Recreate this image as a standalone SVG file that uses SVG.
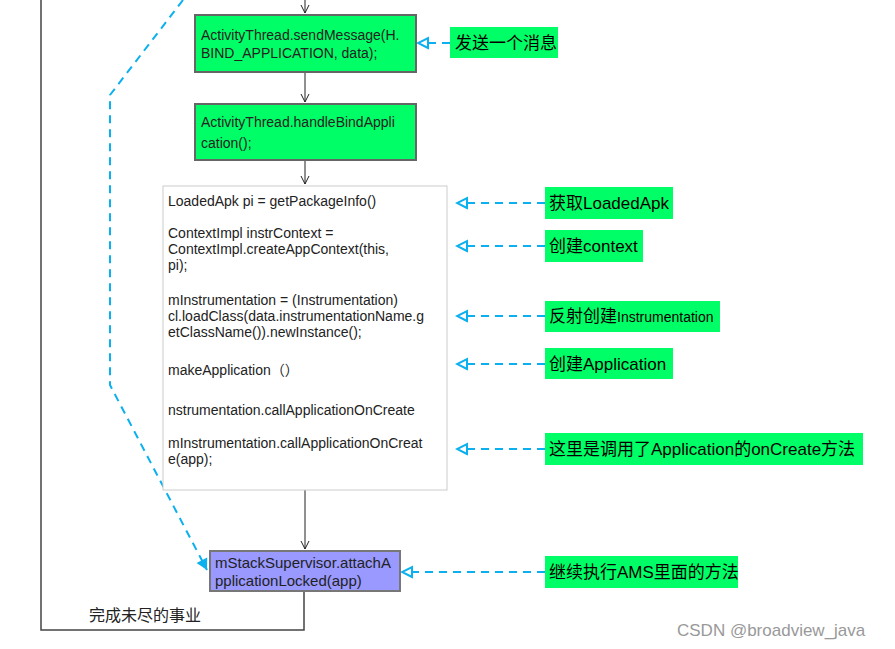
<svg xmlns="http://www.w3.org/2000/svg" width="895" height="649" viewBox="0 0 895 649">
<style>
text{font-family:"Liberation Sans","Noto Sans CJK SC",sans-serif;font-size:14px;fill:#222}
.lbl{font-size:17px;fill:#000}
.g{fill:#00ff66;stroke:#666;stroke-width:2}
.lb{fill:#00ff66;stroke:none}
.c{stroke:#222;stroke-width:1;fill:none}
.d{stroke:#0bb0ee;stroke-width:2;fill:none;stroke-dasharray:8,6}
</style>
<defs>
<marker id="a" markerWidth="10" markerHeight="10" refX="9" refY="5" orient="auto" markerUnits="userSpaceOnUse"><path d="M1,1 L9,5 L1,9" fill="none" stroke="#222"/></marker>
<marker id="o" markerWidth="14" markerHeight="14" refX="12" refY="7" orient="auto" markerUnits="userSpaceOnUse"><path d="M2,2 L12,7 L2,12 Z" fill="#fff" stroke="#0bb0ee" stroke-width="2"/></marker>
<marker id="f" markerWidth="14" markerHeight="14" refX="12" refY="7" orient="auto" markerUnits="userSpaceOnUse"><path d="M1,1 L12,7 L1,13 Z" fill="#0bb0ee"/></marker>
</defs>
<rect width="895" height="649" fill="#fff"/>
<g id="connectors">
<line class="c" x1="305" y1="0" x2="305" y2="13" marker-end="url(#a)"/>
<line class="c" x1="305" y1="72" x2="305" y2="102" marker-end="url(#a)"/>
<line class="c" x1="305" y1="160" x2="305" y2="184" marker-end="url(#a)"/>
<line class="c" x1="305" y1="490" x2="305" y2="549" marker-end="url(#a)"/>
<polyline points="304,591 304,630 41,630 41,0" fill="none" stroke="#444" stroke-width="1.5"/>
<polyline class="d" points="183,0 110,95 110,385 207,570" marker-end="url(#f)"/>
<line class="d" x1="450" y1="43" x2="418" y2="43" marker-end="url(#o)"/>
<line class="d" x1="545" y1="203" x2="457" y2="203" marker-end="url(#o)"/>
<line class="d" x1="545" y1="246" x2="457" y2="246" marker-end="url(#o)"/>
<line class="d" x1="545" y1="316" x2="457" y2="316" marker-end="url(#o)"/>
<line class="d" x1="545" y1="364" x2="457" y2="364" marker-end="url(#o)"/>
<line class="d" x1="545" y1="449" x2="457" y2="449" marker-end="url(#o)"/>
<line class="d" x1="545" y1="572" x2="402" y2="572" marker-end="url(#o)"/>
</g>
<g id="send"><rect class="g" x="195" y="15" width="221" height="57"/><text x="201" y="40">ActivityThread.sendMessage(H.</text><text x="201" y="58">BIND_APPLICATION, data);</text></g>
<g id="handle"><rect class="g" x="195" y="104" width="221" height="56"/><text x="201" y="127">ActivityThread.handleBindAppli</text><text x="201" y="148">cation();</text></g>
<g id="body"><rect x="163" y="186" width="284" height="304" fill="#fff" stroke="#ccc"/>
<text x="168" y="206">LoadedApk pi = getPackageInfo()</text>
<text x="168" y="238">ContextImpl instrContext =</text>
<text x="168" y="254">ContextImpl.createAppContext(this,</text>
<text x="168" y="270">pi);</text>
<text x="168" y="305">mInstrumentation = (Instrumentation)</text>
<text x="168" y="321">cl.loadClass(data.instrumentationName.g</text>
<text x="168" y="337">etClassName()).newInstance();</text>
<text x="168" y="375">makeApplication（）</text>
<text x="168" y="415">nstrumentation.callApplicationOnCreate</text>
<text x="168" y="448">mInstrumentation.callApplicationOnCreat</text>
<text x="168" y="464">e(app);</text>
</g>
<g id="attach"><rect x="210" y="551" width="190" height="40" fill="#9999ff" stroke="#777" stroke-width="2"/><text x="215" y="568" style="font-size:15px">mStackSupervisor.attachA</text><text x="215" y="586" style="font-size:15px">pplicationLocked(app)</text></g>
<g id="finish"><text x="89" y="621" style="font-size:16px">完成未尽的事业</text></g>
<g id="n1"><rect class="lb" x="450" y="27" width="108" height="31"/><text class="lbl" x="455" y="49">发送一个消息</text></g>
<g id="n2"><rect class="lb" x="545" y="187" width="128" height="32"/><text class="lbl" x="549" y="209">获取LoadedApk</text></g>
<g id="n3"><rect class="lb" x="545" y="230" width="98" height="32"/><text class="lbl" x="549" y="252">创建context</text></g>
<g id="n4"><rect class="lb" x="545" y="301" width="175" height="31"/><text class="lbl" x="549" y="322">反射创建<tspan style="font-size:14px">Instrumentation</tspan></text></g>
<g id="n5"><rect class="lb" x="545" y="348" width="128" height="31"/><text class="lbl" x="549" y="370">创建Application</text></g>
<g id="n6"><rect class="lb" x="545" y="433" width="318" height="32"/><text class="lbl" x="549" y="455">这里是调用了Application的onCreate方法</text></g>
<g id="n7"><rect class="lb" x="545" y="556" width="193" height="32"/><text class="lbl" x="549" y="578">继续执行AMS里面的方法</text></g>
<text x="677" y="636" style="font-size:17px;fill:#999">CSDN @broadview_java</text>
</svg>
